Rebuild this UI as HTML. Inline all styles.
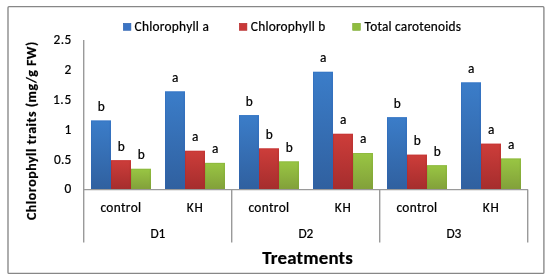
<!DOCTYPE html>
<html><head><meta charset="utf-8"><style>
html,body{margin:0;padding:0;background:#fff;width:550px;height:279px;overflow:hidden}
svg{display:block}
text{font-family:Carlito, 'Liberation Sans', sans-serif;fill:#000;stroke:#000;stroke-width:0.22px}
text.b{stroke-width:0.2px}
</style></head><body>
<svg width="550" height="279" viewBox="0 0 550 279">
<defs>
<linearGradient id="g0" x1="0" y1="0" x2="0" y2="1"><stop offset="0" stop-color="#3b7dc9"/><stop offset="1" stop-color="#30609f"/></linearGradient>
<linearGradient id="g1" x1="0" y1="0" x2="0" y2="1"><stop offset="0" stop-color="#cd3d3a"/><stop offset="1" stop-color="#a52d2d"/></linearGradient>
<linearGradient id="g2" x1="0" y1="0" x2="0" y2="1"><stop offset="0" stop-color="#99c643"/><stop offset="1" stop-color="#82a03a"/></linearGradient>
</defs>
<rect x="0" y="0" width="550" height="279" fill="#fff"/>
<rect x="8" y="6.65" width="535.9" height="266.75" rx="1" ry="1" fill="#fff" stroke="#878787" stroke-width="1.35"/>

<rect x="91.00" y="120.50" width="20.00" height="68.70" fill="url(#g0)"/>
<rect x="91.00" y="120.50" width="20.00" height="1" fill="#3373c4" opacity="0.6"/>
<rect x="91.00" y="121.50" width="1" height="67.70" fill="#2a64b8" opacity="0.35"/>
<rect x="109.50" y="121.50" width="1.5" height="67.70" fill="#2a64b8" opacity="0.3"/>
<rect x="111.00" y="160.20" width="20.00" height="29.00" fill="url(#g1)"/>
<rect x="111.00" y="160.20" width="20.00" height="1" fill="#c33232" opacity="0.6"/>
<rect x="111.00" y="161.20" width="1" height="28.00" fill="#b02828" opacity="0.35"/>
<rect x="129.50" y="161.20" width="1.5" height="28.00" fill="#b02828" opacity="0.3"/>
<rect x="131.00" y="168.80" width="20.00" height="20.40" fill="url(#g2)"/>
<rect x="131.00" y="168.80" width="20.00" height="1" fill="#88b23e" opacity="0.6"/>
<rect x="131.00" y="169.80" width="1" height="19.40" fill="#7aa430" opacity="0.35"/>
<rect x="149.50" y="169.80" width="1.5" height="19.40" fill="#7aa430" opacity="0.3"/>
<rect x="165.00" y="91.40" width="20.00" height="97.80" fill="url(#g0)"/>
<rect x="165.00" y="91.40" width="20.00" height="1" fill="#3373c4" opacity="0.6"/>
<rect x="165.00" y="92.40" width="1" height="96.80" fill="#2a64b8" opacity="0.35"/>
<rect x="183.50" y="92.40" width="1.5" height="96.80" fill="#2a64b8" opacity="0.3"/>
<rect x="185.00" y="150.80" width="20.00" height="38.40" fill="url(#g1)"/>
<rect x="185.00" y="150.80" width="20.00" height="1" fill="#c33232" opacity="0.6"/>
<rect x="185.00" y="151.80" width="1" height="37.40" fill="#b02828" opacity="0.35"/>
<rect x="203.50" y="151.80" width="1.5" height="37.40" fill="#b02828" opacity="0.3"/>
<rect x="205.00" y="162.90" width="20.00" height="26.30" fill="url(#g2)"/>
<rect x="205.00" y="162.90" width="20.00" height="1" fill="#88b23e" opacity="0.6"/>
<rect x="205.00" y="163.90" width="1" height="25.30" fill="#7aa430" opacity="0.35"/>
<rect x="223.50" y="163.90" width="1.5" height="25.30" fill="#7aa430" opacity="0.3"/>
<rect x="239.00" y="115.10" width="20.00" height="74.10" fill="url(#g0)"/>
<rect x="239.00" y="115.10" width="20.00" height="1" fill="#3373c4" opacity="0.6"/>
<rect x="239.00" y="116.10" width="1" height="73.10" fill="#2a64b8" opacity="0.35"/>
<rect x="257.50" y="116.10" width="1.5" height="73.10" fill="#2a64b8" opacity="0.3"/>
<rect x="259.00" y="148.40" width="20.00" height="40.80" fill="url(#g1)"/>
<rect x="259.00" y="148.40" width="20.00" height="1" fill="#c33232" opacity="0.6"/>
<rect x="259.00" y="149.40" width="1" height="39.80" fill="#b02828" opacity="0.35"/>
<rect x="277.50" y="149.40" width="1.5" height="39.80" fill="#b02828" opacity="0.3"/>
<rect x="279.00" y="161.40" width="20.00" height="27.80" fill="url(#g2)"/>
<rect x="279.00" y="161.40" width="20.00" height="1" fill="#88b23e" opacity="0.6"/>
<rect x="279.00" y="162.40" width="1" height="26.80" fill="#7aa430" opacity="0.35"/>
<rect x="297.50" y="162.40" width="1.5" height="26.80" fill="#7aa430" opacity="0.3"/>
<rect x="313.00" y="71.80" width="20.00" height="117.40" fill="url(#g0)"/>
<rect x="313.00" y="71.80" width="20.00" height="1" fill="#3373c4" opacity="0.6"/>
<rect x="313.00" y="72.80" width="1" height="116.40" fill="#2a64b8" opacity="0.35"/>
<rect x="331.50" y="72.80" width="1.5" height="116.40" fill="#2a64b8" opacity="0.3"/>
<rect x="333.00" y="133.80" width="20.00" height="55.40" fill="url(#g1)"/>
<rect x="333.00" y="133.80" width="20.00" height="1" fill="#c33232" opacity="0.6"/>
<rect x="333.00" y="134.80" width="1" height="54.40" fill="#b02828" opacity="0.35"/>
<rect x="351.50" y="134.80" width="1.5" height="54.40" fill="#b02828" opacity="0.3"/>
<rect x="353.00" y="153.00" width="20.00" height="36.20" fill="url(#g2)"/>
<rect x="353.00" y="153.00" width="20.00" height="1" fill="#88b23e" opacity="0.6"/>
<rect x="353.00" y="154.00" width="1" height="35.20" fill="#7aa430" opacity="0.35"/>
<rect x="371.50" y="154.00" width="1.5" height="35.20" fill="#7aa430" opacity="0.3"/>
<rect x="387.00" y="117.20" width="20.00" height="72.00" fill="url(#g0)"/>
<rect x="387.00" y="117.20" width="20.00" height="1" fill="#3373c4" opacity="0.6"/>
<rect x="387.00" y="118.20" width="1" height="71.00" fill="#2a64b8" opacity="0.35"/>
<rect x="405.50" y="118.20" width="1.5" height="71.00" fill="#2a64b8" opacity="0.3"/>
<rect x="407.00" y="154.70" width="20.00" height="34.50" fill="url(#g1)"/>
<rect x="407.00" y="154.70" width="20.00" height="1" fill="#c33232" opacity="0.6"/>
<rect x="407.00" y="155.70" width="1" height="33.50" fill="#b02828" opacity="0.35"/>
<rect x="425.50" y="155.70" width="1.5" height="33.50" fill="#b02828" opacity="0.3"/>
<rect x="427.00" y="165.20" width="20.00" height="24.00" fill="url(#g2)"/>
<rect x="427.00" y="165.20" width="20.00" height="1" fill="#88b23e" opacity="0.6"/>
<rect x="427.00" y="166.20" width="1" height="23.00" fill="#7aa430" opacity="0.35"/>
<rect x="445.50" y="166.20" width="1.5" height="23.00" fill="#7aa430" opacity="0.3"/>
<rect x="461.00" y="82.40" width="20.00" height="106.80" fill="url(#g0)"/>
<rect x="461.00" y="82.40" width="20.00" height="1" fill="#3373c4" opacity="0.6"/>
<rect x="461.00" y="83.40" width="1" height="105.80" fill="#2a64b8" opacity="0.35"/>
<rect x="479.50" y="83.40" width="1.5" height="105.80" fill="#2a64b8" opacity="0.3"/>
<rect x="481.00" y="143.70" width="20.00" height="45.50" fill="url(#g1)"/>
<rect x="481.00" y="143.70" width="20.00" height="1" fill="#c33232" opacity="0.6"/>
<rect x="481.00" y="144.70" width="1" height="44.50" fill="#b02828" opacity="0.35"/>
<rect x="499.50" y="144.70" width="1.5" height="44.50" fill="#b02828" opacity="0.3"/>
<rect x="501.00" y="158.50" width="20.00" height="30.70" fill="url(#g2)"/>
<rect x="501.00" y="158.50" width="20.00" height="1" fill="#88b23e" opacity="0.6"/>
<rect x="501.00" y="159.50" width="1" height="29.70" fill="#7aa430" opacity="0.35"/>
<rect x="519.50" y="159.50" width="1.5" height="29.70" fill="#7aa430" opacity="0.3"/>
<text x="101.20" y="110.90" font-size="13.33" text-anchor="middle">b</text>
<text x="121.20" y="150.60" font-size="13.33" text-anchor="middle">b</text>
<text x="141.20" y="159.20" font-size="13.33" text-anchor="middle">b</text>
<text x="175.20" y="81.80" font-size="13.33" text-anchor="middle">a</text>
<text x="195.20" y="141.20" font-size="13.33" text-anchor="middle">a</text>
<text x="215.20" y="153.30" font-size="13.33" text-anchor="middle">a</text>
<text x="249.20" y="105.50" font-size="13.33" text-anchor="middle">b</text>
<text x="269.20" y="138.80" font-size="13.33" text-anchor="middle">b</text>
<text x="289.20" y="151.80" font-size="13.33" text-anchor="middle">b</text>
<text x="323.20" y="62.20" font-size="13.33" text-anchor="middle">a</text>
<text x="343.20" y="124.20" font-size="13.33" text-anchor="middle">a</text>
<text x="363.20" y="143.40" font-size="13.33" text-anchor="middle">a</text>
<text x="397.20" y="107.60" font-size="13.33" text-anchor="middle">b</text>
<text x="417.20" y="145.10" font-size="13.33" text-anchor="middle">b</text>
<text x="437.20" y="155.60" font-size="13.33" text-anchor="middle">b</text>
<text x="471.20" y="72.80" font-size="13.33" text-anchor="middle">a</text>
<text x="491.20" y="134.10" font-size="13.33" text-anchor="middle">a</text>
<text x="511.20" y="148.90" font-size="13.33" text-anchor="middle">a</text>
<line x1="83.7" y1="40" x2="83.7" y2="242.6" stroke="#9a9a9a" stroke-width="1.4"/>
<line x1="83" y1="189.6" x2="528" y2="189.6" stroke="#9a9a9a" stroke-width="1.4"/>
<line x1="231.70" y1="189.6" x2="231.70" y2="242.6" stroke="#9a9a9a" stroke-width="1.4"/>
<line x1="379.70" y1="189.6" x2="379.70" y2="242.6" stroke="#9a9a9a" stroke-width="1.4"/>
<line x1="527.70" y1="189.6" x2="527.70" y2="242.6" stroke="#9a9a9a" stroke-width="1.4"/>
<text x="71.2" y="193.40" font-size="13.33" text-anchor="end">0</text>
<text x="71.2" y="163.58" font-size="13.33" text-anchor="end" textLength="17.22">0.5</text>
<text x="71.2" y="133.76" font-size="13.33" text-anchor="end">1</text>
<text x="71.2" y="103.94" font-size="13.33" text-anchor="end" textLength="18.31">1.5</text>
<text x="71.2" y="74.12" font-size="13.33" text-anchor="end">2</text>
<text x="71.2" y="44.30" font-size="13.33" text-anchor="end" textLength="17.63">2.5</text>
<text x="120.80" y="211.7" font-size="13.33" text-anchor="middle" textLength="40.72">control</text>
<text x="194.80" y="211.7" font-size="13.33" text-anchor="middle" textLength="15.91">KH</text>
<text x="268.80" y="211.7" font-size="13.33" text-anchor="middle" textLength="40.72">control</text>
<text x="342.80" y="211.7" font-size="13.33" text-anchor="middle" textLength="15.91">KH</text>
<text x="416.80" y="211.7" font-size="13.33" text-anchor="middle" textLength="40.72">control</text>
<text x="490.80" y="211.7" font-size="13.33" text-anchor="middle" textLength="15.91">KH</text>
<text x="157.90" y="237.8" font-size="13.33" text-anchor="middle" textLength="14.98">D1</text>
<text x="305.90" y="237.8" font-size="13.33" text-anchor="middle">D2</text>
<text x="453.90" y="237.8" font-size="13.33" text-anchor="middle">D3</text>
<text x="307.6" y="263.7" class="b" font-size="18.9" font-weight="bold" text-anchor="middle" textLength="90.6">Treatments</text>
<text transform="translate(35.6,130.85) rotate(-90)" x="0" y="0" class="b" font-size="13.9" font-weight="bold" text-anchor="middle" textLength="178.39">Chlorophyll traits (mg/g FW)</text>
<rect x="123.3" y="23.3" width="7.6" height="7.0" fill="#3b74c4" stroke="#2d62b0" stroke-width="0.6"/>
<text x="134.6" y="31.2" font-size="13.33" textLength="74.17">Chlorophyll a</text>
<rect x="239.3" y="23.3" width="7.6" height="7.0" fill="#c93838" stroke="#b42a2a" stroke-width="0.6"/>
<text x="250.8" y="31.2" font-size="13.33" textLength="74.43">Chlorophyll b</text>
<rect x="352.7" y="23.3" width="7.6" height="7.0" fill="#8fbd3e" stroke="#7aa82f" stroke-width="0.6"/>
<text x="364.6" y="31.2" font-size="13.33" textLength="96.38">Total carotenoids</text>
</svg></body></html>
